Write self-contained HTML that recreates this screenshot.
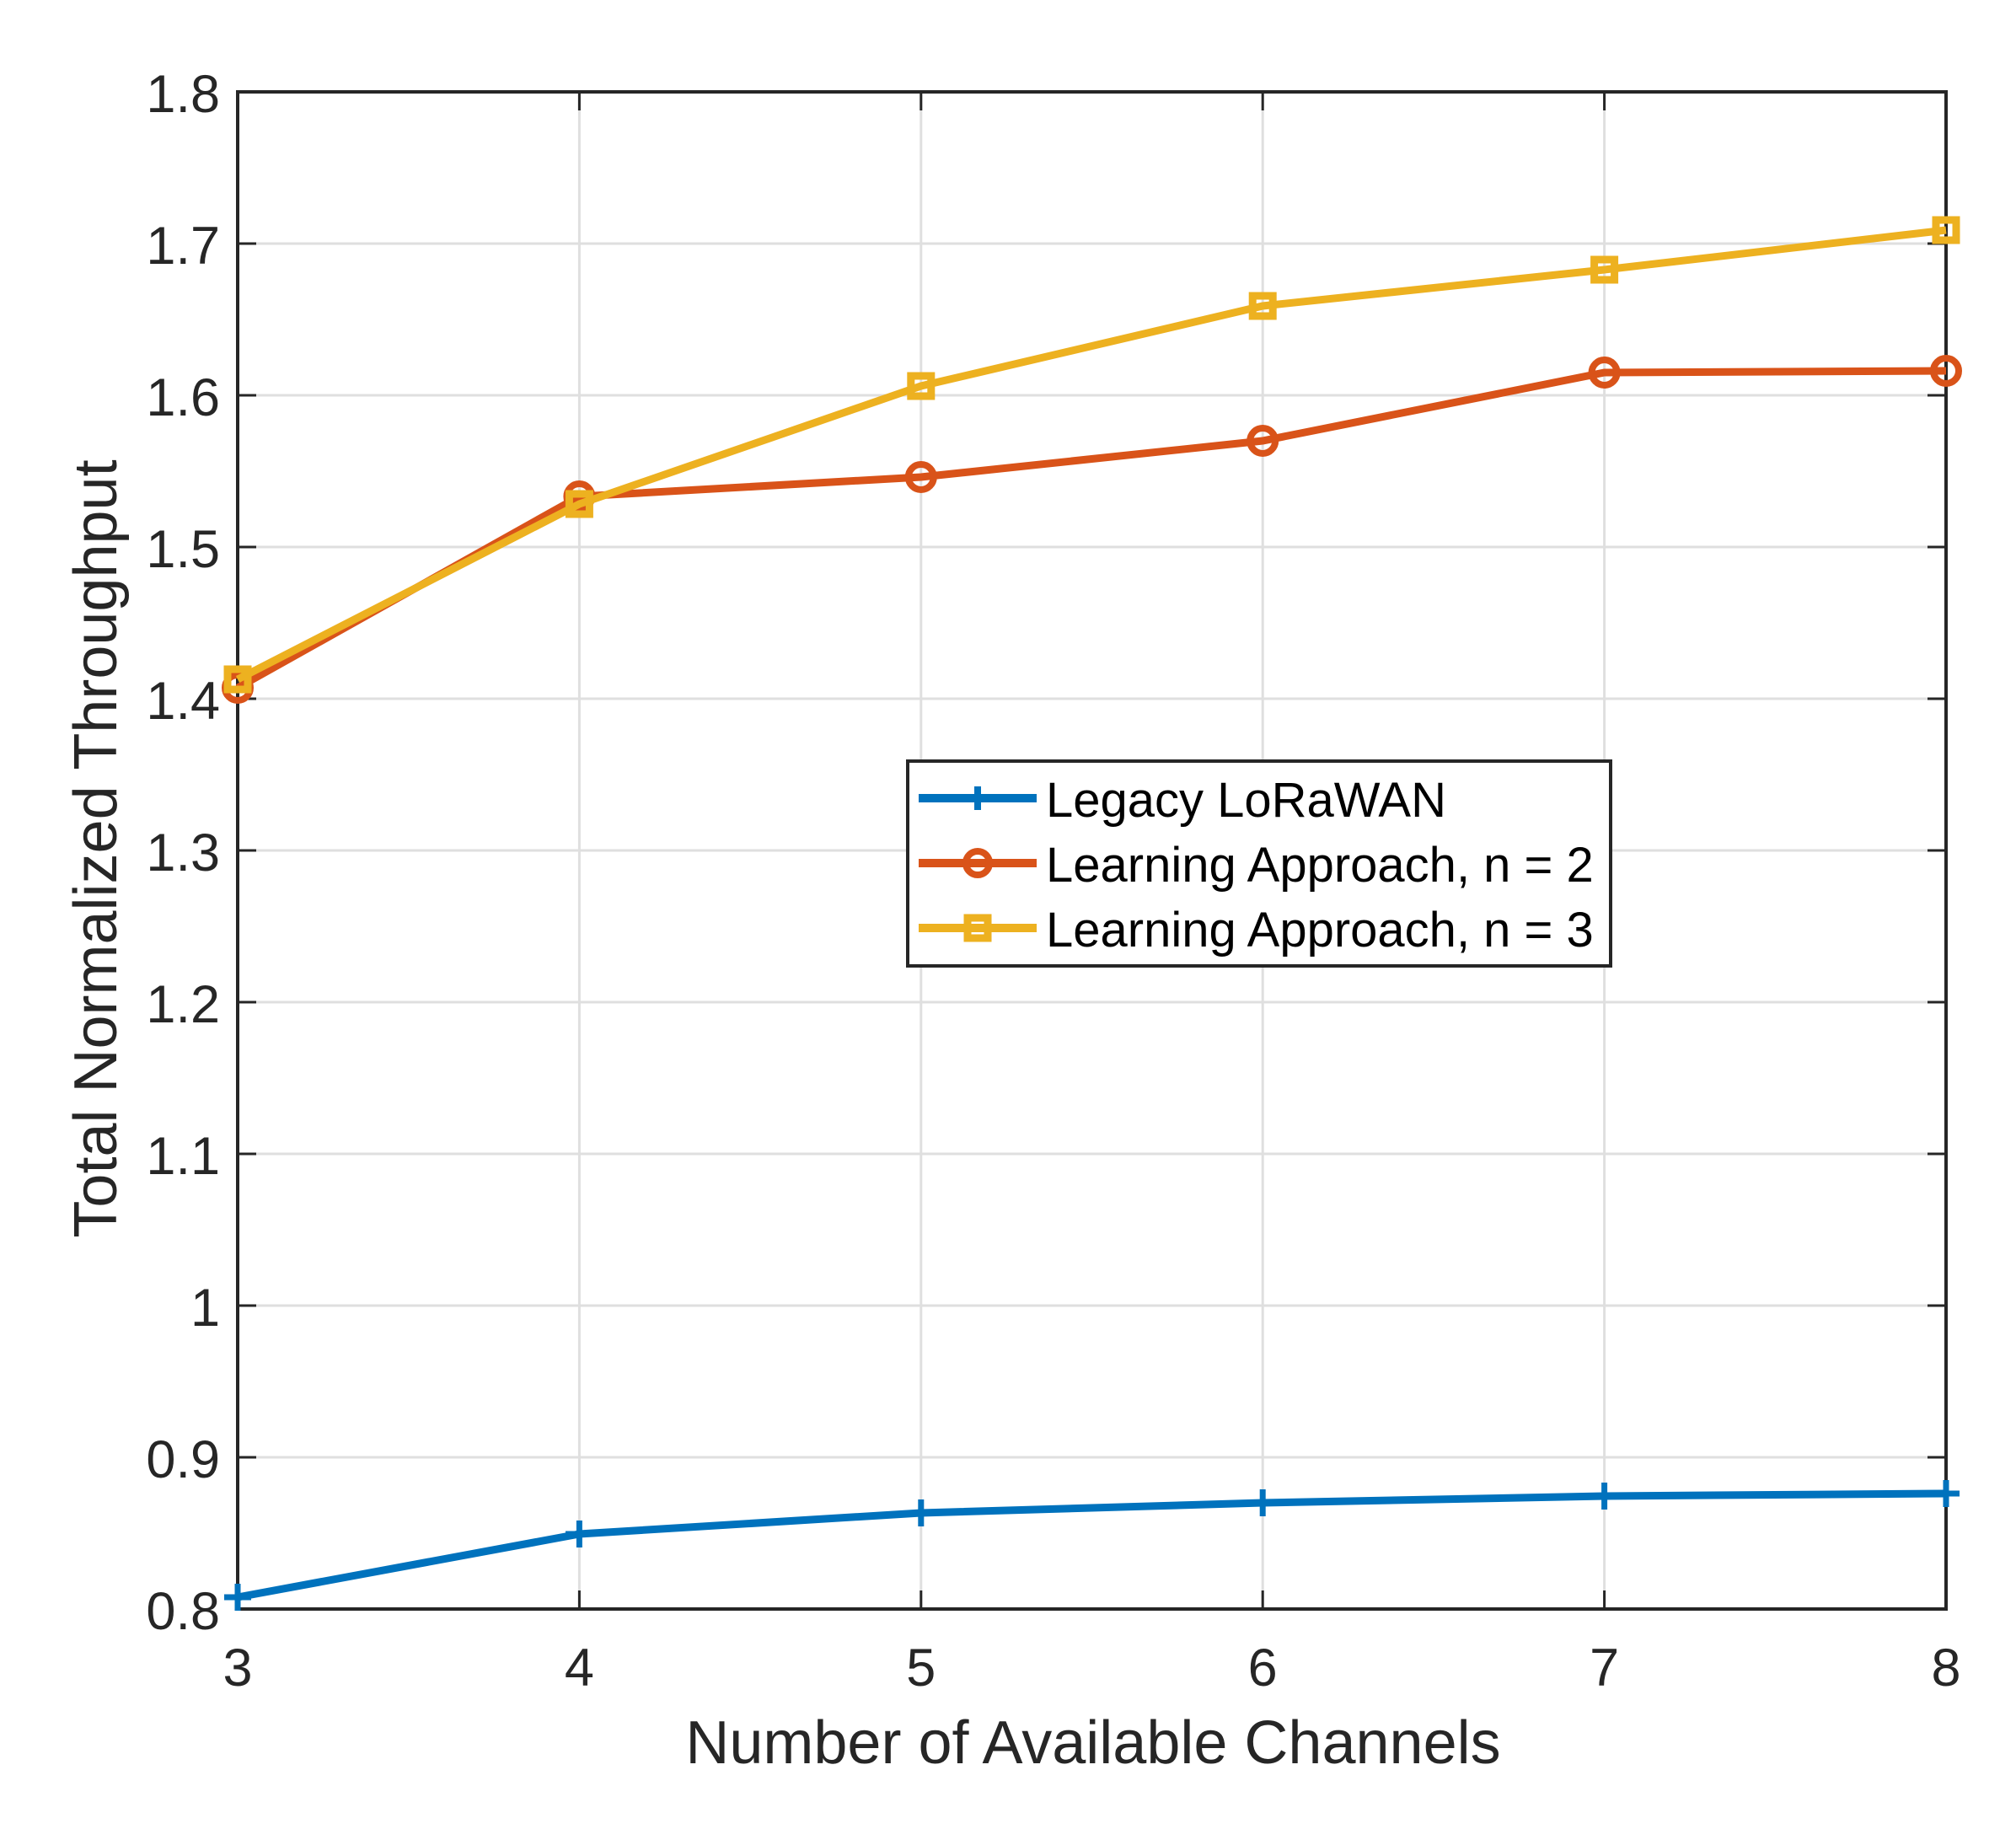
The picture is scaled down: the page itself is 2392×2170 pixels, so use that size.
<!DOCTYPE html>
<html><head><style>body{margin:0;background:#fff}svg{display:block}</style></head>
<body>
<svg width="2392" height="2170" viewBox="0 0 2392 2170" xmlns="http://www.w3.org/2000/svg" font-family="Liberation Sans, Arial, sans-serif">
<rect width="2392" height="2170" fill="#fff"/>
<g stroke="#dfdfdf" stroke-width="3">
<line x1="687.4" y1="109" x2="687.4" y2="1909"/><line x1="1092.8" y1="109" x2="1092.8" y2="1909"/><line x1="1498.2" y1="109" x2="1498.2" y2="1909"/><line x1="1903.6" y1="109" x2="1903.6" y2="1909"/>
<line x1="282" y1="289" x2="2309" y2="289"/><line x1="282" y1="469" x2="2309" y2="469"/><line x1="282" y1="649" x2="2309" y2="649"/><line x1="282" y1="829" x2="2309" y2="829"/><line x1="282" y1="1009" x2="2309" y2="1009"/><line x1="282" y1="1189" x2="2309" y2="1189"/><line x1="282" y1="1369" x2="2309" y2="1369"/><line x1="282" y1="1549" x2="2309" y2="1549"/><line x1="282" y1="1729" x2="2309" y2="1729"/>
</g>
<g stroke="#262626" stroke-width="3">
<path d="M282 289h22M282 469h22M282 649h22M282 829h22M282 1009h22M282 1189h22M282 1369h22M282 1549h22M282 1729h22"/>
<path d="M2309 289h-22M2309 469h-22M2309 649h-22M2309 829h-22M2309 1009h-22M2309 1189h-22M2309 1369h-22M2309 1549h-22M2309 1729h-22"/>
<path d="M687.4 1909v-22M1092.8 1909v-22M1498.2 1909v-22M1903.6 1909v-22M687.4 109v22M1092.8 109v22M1498.2 109v22M1903.6 109v22"/>
</g>
<rect x="282" y="109" width="2027" height="1800" fill="none" stroke="#262626" stroke-width="4"/>
<g font-size="63" fill="#262626" text-anchor="end">
<text x="261" y="133">1.8</text><text x="261" y="313">1.7</text><text x="261" y="493">1.6</text><text x="261" y="673">1.5</text><text x="261" y="853">1.4</text><text x="261" y="1033">1.3</text><text x="261" y="1213">1.2</text><text x="261" y="1393">1.1</text><text x="261" y="1573">1</text><text x="261" y="1753">0.9</text><text x="261" y="1933">0.8</text>
</g>
<g font-size="63" fill="#262626" text-anchor="middle">
<text x="282" y="2000">3</text><text x="687.4" y="2000">4</text><text x="1092.8" y="2000">5</text><text x="1498.2" y="2000">6</text><text x="1903.6" y="2000">7</text><text x="2309" y="2000">8</text>
<text x="1297" y="2092" font-size="72">Number of Available Channels</text>
<text transform="translate(138,1007) rotate(-90)" font-size="72">Total Normalized Throughput</text>
</g>
<polyline fill="none" stroke="#0072bd" stroke-width="9" points="282,1895 687.4,1820 1092.8,1795 1498.2,1783 1903.6,1775 2309,1772"/>
<g stroke="#0072bd" stroke-width="7">
<path d="M282 1879v32M266 1895h32M687.4 1804v32M671 1820h32M1092.8 1779v32M1077 1795h32M1498.2 1767v32M1482 1783h32M1903.6 1759v32M1888 1775h32M2309 1756v32M2293 1772h32"/>
</g>
<polyline fill="none" stroke="#d95319" stroke-width="9" points="282,816 687.4,589 1092.8,566 1498.2,523 1903.6,442 2309,440"/>
<g fill="none" stroke="#d95319" stroke-width="8">
<circle cx="282" cy="816" r="15"/><circle cx="687.4" cy="589" r="15"/><circle cx="1092.8" cy="566" r="15"/><circle cx="1498.2" cy="523" r="15"/><circle cx="1903.6" cy="442" r="15"/><circle cx="2309" cy="440" r="15"/>
</g>
<polyline fill="none" stroke="#edb120" stroke-width="9" points="282,806 687.4,598 1092.8,458 1498.2,363 1903.6,320 2309,273"/>
<g fill="none" stroke="#edb120" stroke-width="9">
<rect x="270" y="794" width="24" height="24"/><rect x="675.4" y="586" width="24" height="24"/><rect x="1080.8" y="446" width="24" height="24"/><rect x="1486.2" y="351" width="24" height="24"/><rect x="1891.6" y="308" width="24" height="24"/><rect x="2297" y="261" width="24" height="24"/>
</g>
<rect x="1077" y="903" width="834" height="243" fill="#fff" stroke="#262626" stroke-width="4"/>
<line x1="1090" y1="947" x2="1230" y2="947" stroke="#0072bd" stroke-width="10"/>
<path d="M1160 933v28M1146 947h28" stroke="#0072bd" stroke-width="8"/>
<line x1="1090" y1="1024" x2="1230" y2="1024" stroke="#d95319" stroke-width="10"/>
<circle cx="1160" cy="1024" r="14" fill="none" stroke="#d95319" stroke-width="8"/>
<line x1="1090" y1="1101" x2="1230" y2="1101" stroke="#edb120" stroke-width="10"/>
<rect x="1148" y="1089" width="24" height="24" fill="none" stroke="#edb120" stroke-width="9"/>
<g font-size="58" fill="#000">
<text x="1241" y="969">Legacy LoRaWAN</text>
<text x="1241" y="1046">Learning Approach, n = 2</text>
<text x="1241" y="1123">Learning Approach, n = 3</text>
</g>
</svg>
</body></html>
